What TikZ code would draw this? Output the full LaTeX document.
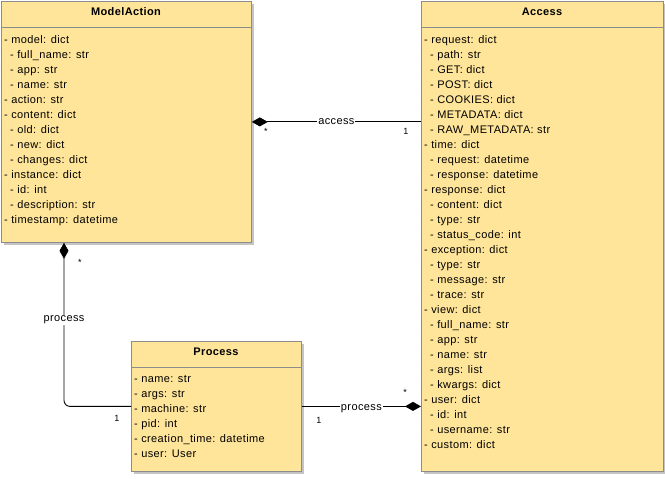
\documentclass[tikz,border=0pt]{standalone}
\usepackage{fontspec}
\setmainfont{Liberation Sans}[LetterSpace=3.5]
\usetikzlibrary{arrows.meta, positioning, shadows}

\definecolor{classfill}{HTML}{FFE599}
\definecolor{classline}{HTML}{8C8C8C}
\definecolor{classshadow}{HTML}{C4C4C4}

\tikzset{
    classbox/.style={draw=classline, fill=classfill, line width=0.8pt, inner sep=0pt,
        anchor=north west,
        drop shadow={shadow xshift=3pt, shadow yshift=-3pt, fill=classshadow, opacity=1}},
    classname/.style={font=\fontsize{11}{13}\selectfont\bfseries},
    attrs/.style={anchor=north west, align=left, inner sep=0pt,
        font=\fontsize{11}{15}\selectfont},
    role/.style={fill=white, inner sep=1pt, font=\fontsize{11}{13}\selectfont},
    mult/.style={inner sep=0pt, font=\fontsize{9}{10}\selectfont},
    whole/.style={line width=0.9pt, {Diamond[length=16pt,width=9pt]}-},
    wholeend/.style={line width=0.9pt, -{Diamond[length=16pt,width=9pt]}},
}
\newcommand{\sub}{\hspace*{6pt}}

\begin{document}
\begin{tikzpicture}[x=1pt, y=-1pt]

    \useasboundingbox (0,0) rectangle (665,479);

    % ModelAction class
    \node[classbox, minimum width=250pt, minimum height=241pt] (ma) at (1,1) {};
    \draw[classline, line width=0.8pt] ([yshift=-26pt]ma.north west) -- ([yshift=-26pt]ma.north east);
    \node[classname] (ma-name) at (126,12) {ModelAction};
    \node[attrs] (ma-attrs) at (4,35.5) {- model: dict\\ \sub- full\_name: str\\ \sub- app: str\\ \sub- name: str\\
        - action: str\\ - content: dict\\ \sub- old: dict\\ \sub- new: dict\\ \sub- changes: dict\\
        - instance: dict\\ \sub- id: int\\ \sub- description: str\\ - timestamp: datetime};

    % Access class
    \node[classbox, minimum width=242pt, minimum height=470pt] (ac) at (421,1) {};
    \draw[classline, line width=0.8pt] ([yshift=-26pt]ac.north west) -- ([yshift=-26pt]ac.north east);
    \node[classname] (ac-name) at (542,12) {Access};
    \node[attrs] (ac-attrs) at (424,35.5) {- request: dict\\ \sub- path: str\\ \sub- GET: dict\\ \sub- POST: dict\\
        \sub- COOKIES: dict\\ \sub- METADATA: dict\\ \sub- RAW\_METADATA: str\\
        - time: dict\\ \sub- request: datetime\\ \sub- response: datetime\\
        - response: dict\\ \sub- content: dict\\ \sub- type: str\\ \sub- status\_code: int\\
        - exception: dict\\ \sub- type: str\\ \sub- message: str\\ \sub- trace: str\\
        - view: dict\\ \sub- full\_name: str\\ \sub- app: str\\ \sub- name: str\\ \sub- args: list\\ \sub- kwargs: dict\\
        - user: dict\\ \sub- id: int\\ \sub- username: str\\ - custom: dict};

    % Process class
    \node[classbox, minimum width=170pt, minimum height=130pt] (pr) at (131,341) {};
    \draw[classline, line width=0.8pt] ([yshift=-26pt]pr.north west) -- ([yshift=-26pt]pr.north east);
    \node[classname] (pr-name) at (216,352) {Process};
    \node[attrs] (pr-attrs) at (134,375.5) {- name: str\\ - args: str\\ - machine: str\\ - pid: int\\
        - creation\_time: datetime\\ - user: User};

    % Associations
    \draw[whole] (ma.east) -- (ma.east -| ac.west)
        node[role, midway] (access-lbl) {access}
        node[mult, pos=0, xshift=14pt, yshift=-10pt] (access-many) {*}
        node[mult, pos=1, xshift=-15pt, yshift=-10pt] (access-one) {1};
    \draw[whole, rounded corners=6pt] ([xshift=63pt]ma.south west) |- (pr.west)
        node[role, pos=0.23, yshift=-2pt] (proc-ma-lbl) {process}
        node[mult, pos=0, xshift=16pt, yshift=-20pt] (proc-ma-many) {*}
        node[mult, pos=1, xshift=-14pt, yshift=-12pt] (proc-ma-one) {1};
    \draw[wholeend] (pr.east) -- (pr.east -| ac.west)
        node[role, midway, yshift=-2pt] (proc-ac-lbl) {process}
        node[mult, pos=0, xshift=17pt, yshift=-14pt] (proc-ac-one) {1}
        node[mult, pos=1, xshift=-16pt, yshift=14pt] (proc-ac-many) {*};

\end{tikzpicture}
\end{document}
